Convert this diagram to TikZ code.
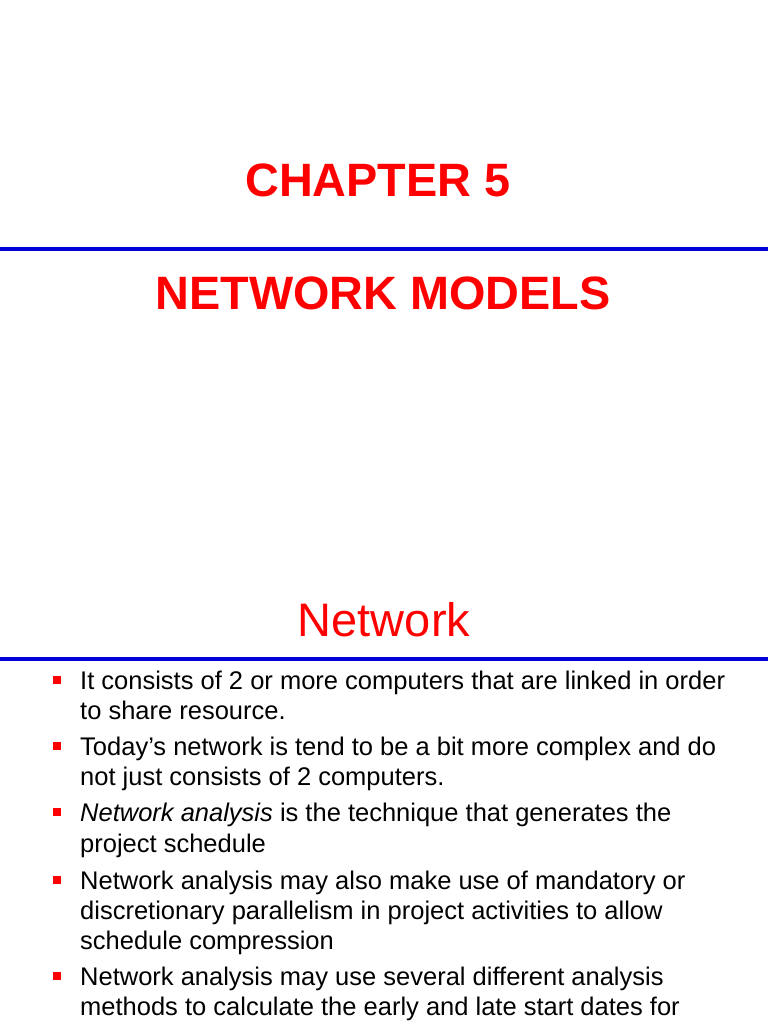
\documentclass[tikz,border=0pt]{standalone}
\usepackage{fontspec}
\setmainfont{Liberation Sans}
\begin{document}
\begin{tikzpicture}[x=1pt,y=-1pt,
  title/.style={text=red,font=\fontsize{46.8}{52}\selectfont\bfseries,anchor=base},
  body/.style={anchor=base west,inner sep=0pt,font=\fontsize{25.5}{30}\selectfont},
  bul/.style={fill=red,minimum size=8pt,inner sep=0pt}]
\useasboundingbox (0,0) rectangle (768,1024);
\clip (0,0) rectangle (768,1024);
\node[title] (t1) at (378,197) {CHAPTER 5};
\node[title] (t2) at (383,309) {NETWORK MODELS};
\draw[blue!85!black,line width=3.5pt] (0,249) -- (768,249);
\node[anchor=base,text=red,font=\fontsize{47}{52}\selectfont] (t3) at (384,636) {Network};
\draw[blue!85!black,line width=3.5pt] (0,659) -- (768,659);
\foreach \y/\t [count=\i] in {
 689/It consists of 2 or more computers that are linked in order,
 719/to share resource.,
 755/Today’s network is tend to be a bit more complex and do,
 785/not just consists of 2 computers.,
 821/{\textit{Network analysis} is the technique that generates the},
 852/project schedule,
 889/Network analysis may also make use of mandatory or,
 919/discretionary parallelism in project activities to allow,
 949/schedule compression,
 985/Network analysis may use several different analysis,
 1015/methods to calculate the early and late start dates for}
 {\node[body] (l\i) at (80,\y) {\t};}
\foreach \y [count=\i] in {680,746,812,880,976}
 {\node[bul] (b\i) at (57,\y) {};}
\end{tikzpicture}
\end{document}
